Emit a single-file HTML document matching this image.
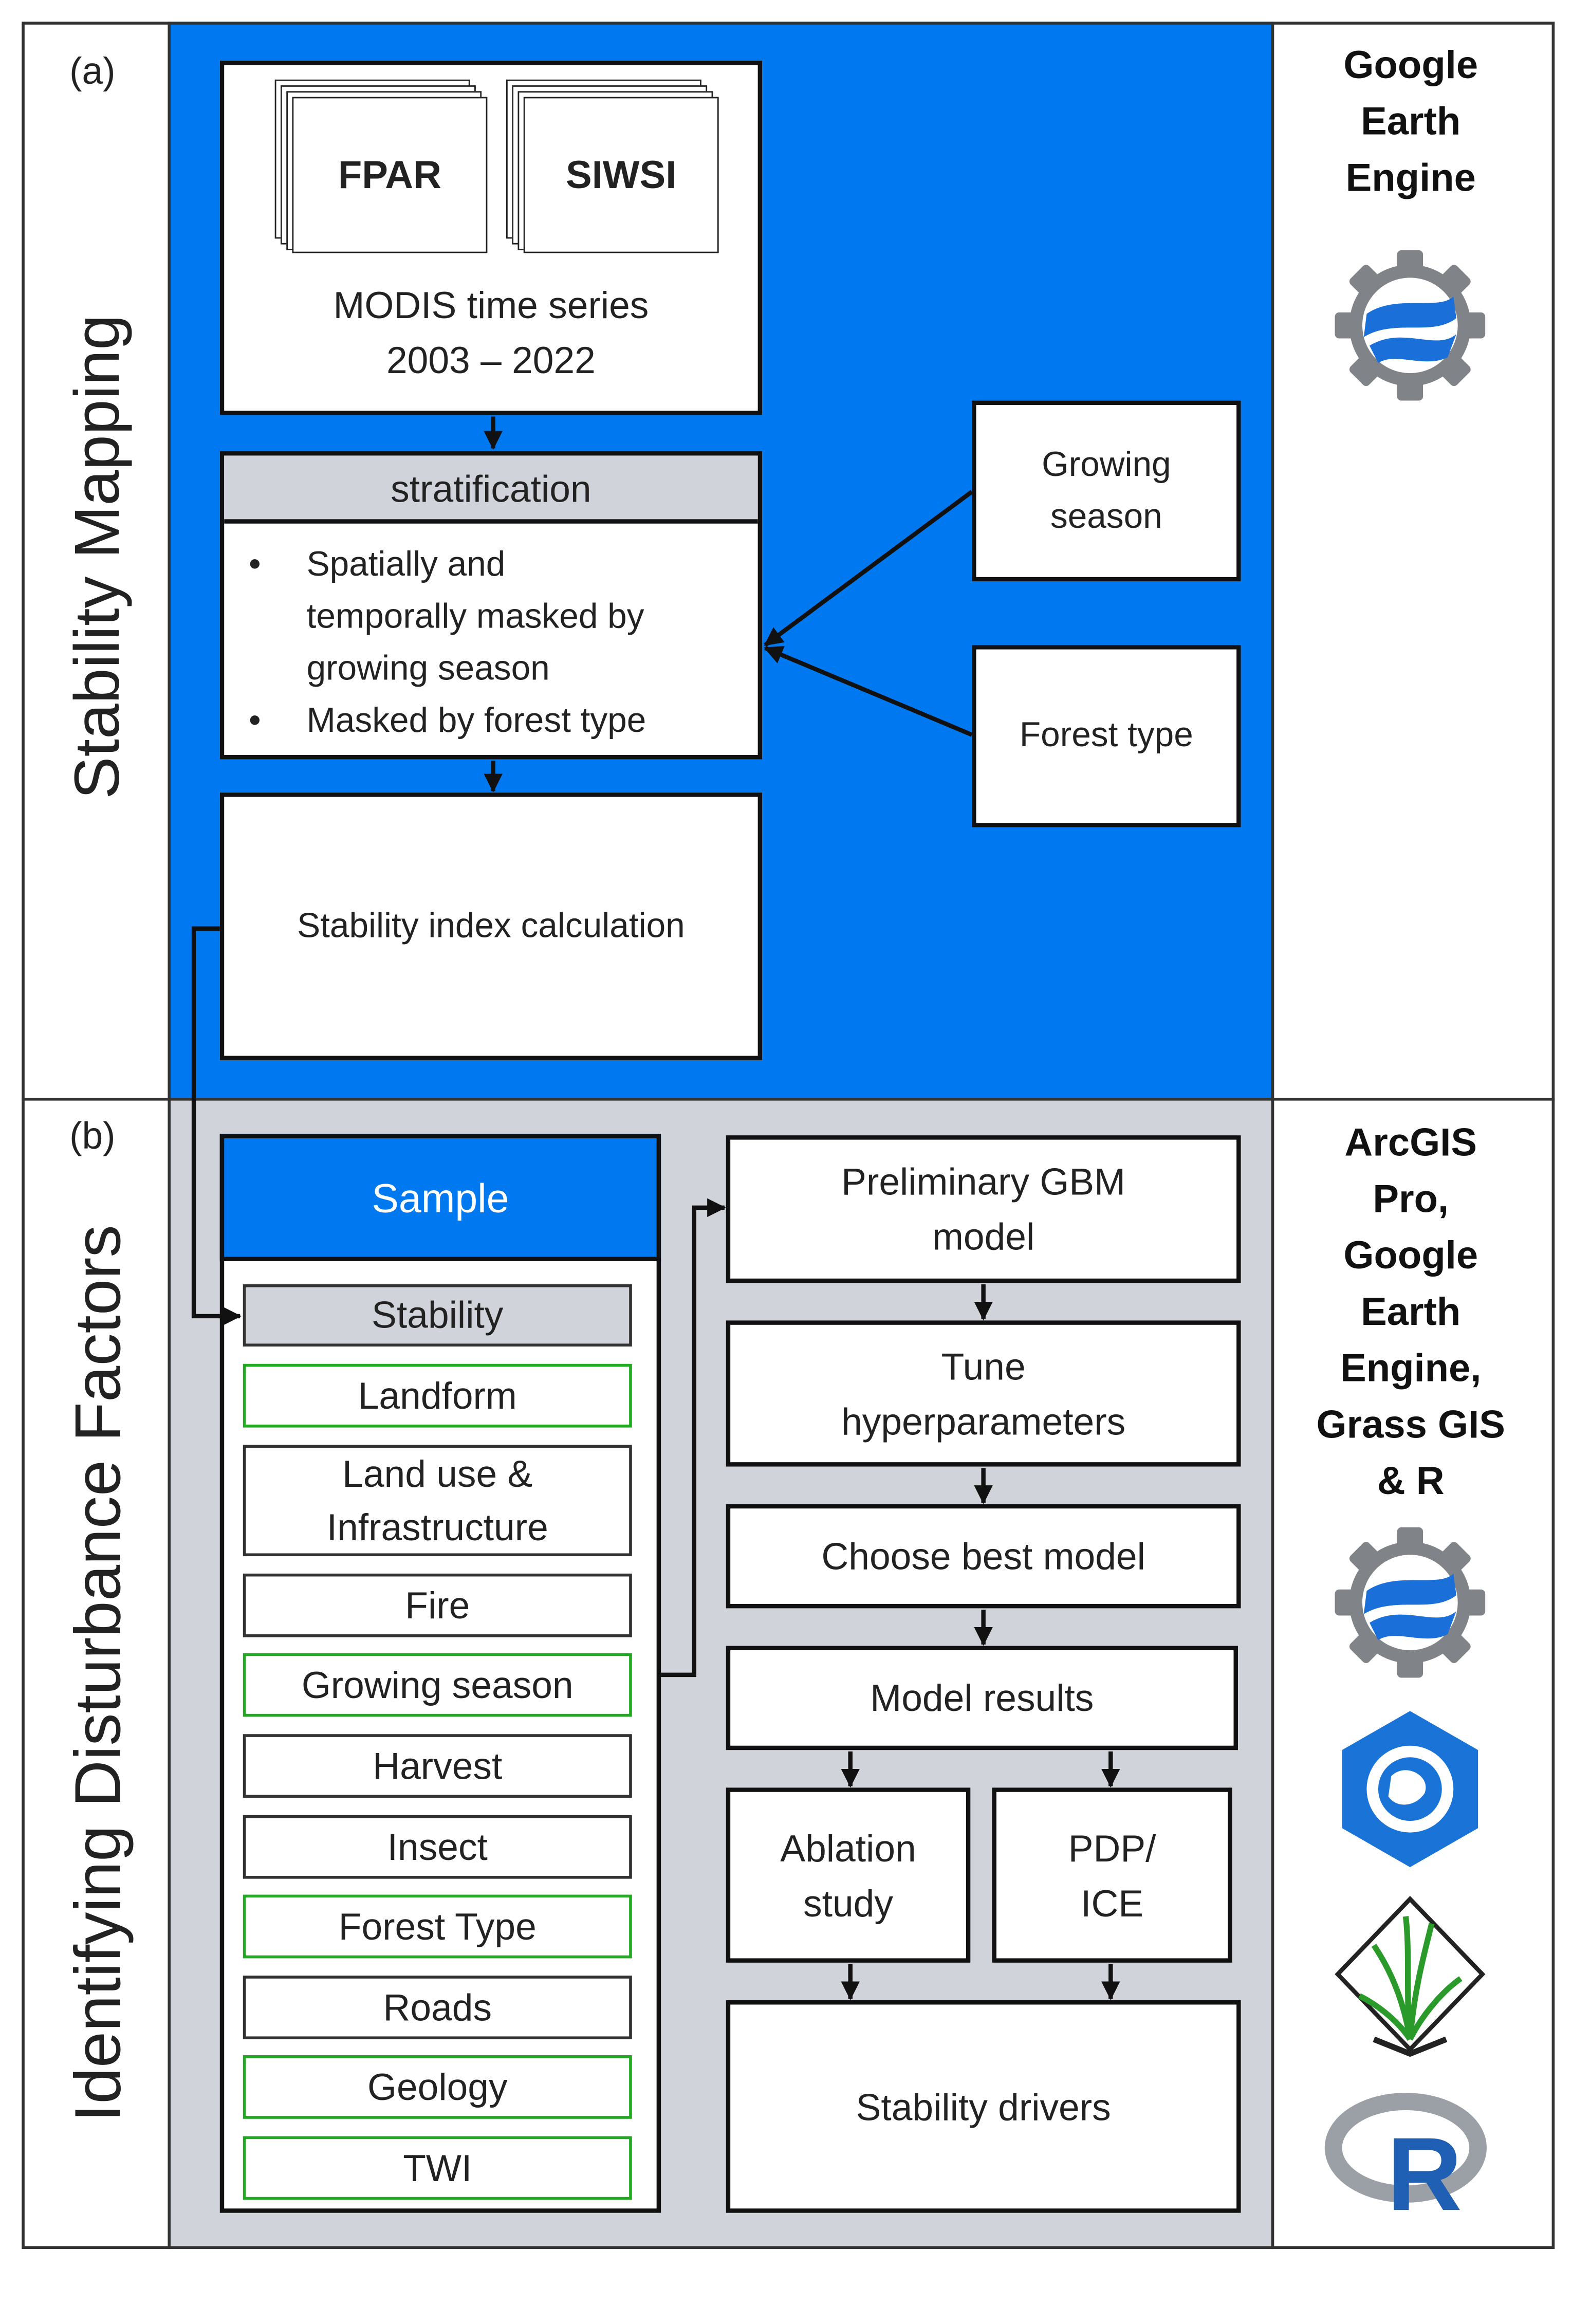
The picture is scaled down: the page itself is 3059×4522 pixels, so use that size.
<!DOCTYPE html>
<html><head><meta charset="utf-8"><style>
html,body{margin:0;padding:0;background:#fff;}
#wrap{position:absolute;left:0;top:0;width:1087px;height:1571px;transform:scale(2.8142);transform-origin:0 0;font-family:"Liberation Sans",sans-serif;color:#222;}
.a{position:absolute;box-sizing:border-box;}
.box{position:absolute;box-sizing:border-box;background:#fff;border:3px solid #111;display:flex;align-items:center;justify-content:center;text-align:center;font-size:26px;line-height:38px;}
.it{position:absolute;box-sizing:border-box;left:168px;width:269px;background:#fff;border:2px solid #333;display:flex;align-items:center;justify-content:center;text-align:center;font-size:26px;line-height:37px;}
.g{border-color:#22aa22;}
.card{position:absolute;box-sizing:border-box;background:#fff;border:1.5px solid #222;}
.rt{position:absolute;left:880px;width:195px;text-align:center;font-weight:bold;font-size:27px;line-height:39px;color:#111;}
</style></head><body><div id="wrap">
<div class="a" style="left:117px;top:15px;width:763px;height:745px;background:#0078f0"></div>
<div class="a" style="left:117px;top:760px;width:763px;height:795px;background:#d0d4da"></div>
<div class="a" style="left:15px;top:15px;width:1060px;height:1540px;border:2px solid #333"></div>
<div class="a" style="left:116px;top:15px;width:2px;height:1540px;background:#333"></div>
<div class="a" style="left:879px;top:15px;width:2px;height:1540px;background:#333"></div>
<div class="a" style="left:15px;top:759px;width:1060px;height:2px;background:#333"></div>

<div class="a" style="left:48px;top:34px;font-size:26px">(a)</div>
<div class="a" style="left:48px;top:770px;font-size:26px">(b)</div>
<div class="a" style="left:68px;top:385px;width:700px;margin-left:-350px;text-align:center;font-size:44px;transform:rotate(-90deg);line-height:50px;margin-top:-25px">Stability Mapping</div>
<div class="a" style="left:68px;top:1157px;width:900px;margin-left:-450px;text-align:center;font-size:45px;transform:rotate(-90deg);line-height:50px;margin-top:-25px">Identifying Disturbance Factors</div>

<!-- MODIS -->
<div class="box" style="left:152px;top:42px;width:375px;height:245px;align-items:flex-end;padding-bottom:16px">MODIS time series<br>2003 – 2022</div>
<div class="card" style="left:190px;top:55px;width:135px;height:110px"></div>
<div class="card" style="left:194px;top:59px;width:135px;height:110px"></div>
<div class="card" style="left:198px;top:63px;width:135px;height:110px"></div>
<div class="card" style="left:202px;top:67px;width:135px;height:108px;display:flex;align-items:center;justify-content:center;font-weight:bold;font-size:27px">FPAR</div>
<div class="card" style="left:350px;top:55px;width:135px;height:110px"></div>
<div class="card" style="left:354px;top:59px;width:135px;height:110px"></div>
<div class="card" style="left:358px;top:63px;width:135px;height:110px"></div>
<div class="card" style="left:362px;top:67px;width:135px;height:108px;display:flex;align-items:center;justify-content:center;font-weight:bold;font-size:27px">SIWSI</div>

<!-- stratification -->
<div class="box" style="left:152px;top:312px;width:375px;height:213px"></div>
<div class="a" style="left:155px;top:315px;width:369px;height:47px;background:#d0d4da;border-bottom:3px solid #111;text-align:center;font-size:26px;line-height:46px">stratification</div>
<div class="a" style="left:172px;top:373px;font-size:24px;line-height:36px;width:330px">
<div style="position:relative;padding-left:40px"><span style="position:absolute;left:0">•</span>Spatially and<br>temporally masked by<br>growing season</div>
<div style="position:relative;padding-left:40px"><span style="position:absolute;left:0">•</span>Masked by forest type</div></div>

<div class="box" style="left:152px;top:548px;width:375px;height:185px;font-size:24px">Stability index calculation</div>
<div class="box" style="left:672px;top:277px;width:186px;height:125px;font-size:24px;line-height:36px">Growing<br>season</div>
<div class="box" style="left:672px;top:446px;width:186px;height:126px;font-size:24px">Forest type</div>

<!-- bottom -->
<div class="box" style="left:152px;top:784px;width:305px;height:746px"></div>
<div class="a" style="left:152px;top:784px;width:305px;height:88px;background:#0078f0;border:3px solid #111;color:#fff;font-size:28px;text-align:center;line-height:84px">Sample</div>
<div class="it" style="top:888px;height:43px;background:#d0d4da">Stability</div>
<div class="it g" style="top:943px;height:44px">Landform</div>
<div class="it" style="top:999px;height:77px">Land use &amp;<br>Infrastructure</div>
<div class="it" style="top:1088px;height:44px">Fire</div>
<div class="it g" style="top:1143px;height:44px">Growing season</div>
<div class="it" style="top:1199px;height:44px">Harvest</div>
<div class="it" style="top:1255px;height:44px">Insect</div>
<div class="it g" style="top:1310px;height:44px">Forest Type</div>
<div class="it" style="top:1366px;height:44px">Roads</div>
<div class="it g" style="top:1421px;height:44px">Geology</div>
<div class="it g" style="top:1477px;height:44px">TWI</div>

<div class="box" style="left:502px;top:785px;width:356px;height:102px">Preliminary GBM<br>model</div>
<div class="box" style="left:502px;top:913px;width:356px;height:101px">Tune<br>hyperparameters</div>
<div class="box" style="left:502px;top:1040px;width:356px;height:72px">Choose best model</div>
<div class="box" style="left:502px;top:1138px;width:354px;height:72px">Model results</div>
<div class="box" style="left:502px;top:1236px;width:169px;height:121px">Ablation<br>study</div>
<div class="box" style="left:686px;top:1236px;width:166px;height:121px">PDP/<br>ICE</div>
<div class="box" style="left:502px;top:1383px;width:356px;height:147px">Stability drivers</div>

<!-- right column -->
<div class="rt" style="top:26px;left:878px">Google<br>Earth<br>Engine</div>
<div class="rt" style="top:771px;left:878px">ArcGIS<br>Pro,<br>Google<br>Earth<br>Engine,<br>Grass GIS<br>&amp; R</div>

<svg class="a" style="left:0;top:0" width="1087" height="1571" viewBox="0 0 1087 1571">
<defs>
<marker id="ar" markerWidth="13" markerHeight="13" refX="12" refY="6.5" orient="auto" markerUnits="userSpaceOnUse"><path d="M0,0 L13,6.5 L0,13 z" fill="#111"/></marker>
<g id="gear">
<g fill="#808488">
<rect x="-9" y="-52" width="18" height="16" rx="3"/>
<rect x="-9" y="-52" width="18" height="16" rx="3" transform="rotate(45)"/>
<rect x="-9" y="-52" width="18" height="16" rx="3" transform="rotate(90)"/>
<rect x="-9" y="-52" width="18" height="16" rx="3" transform="rotate(135)"/>
<rect x="-9" y="-52" width="18" height="16" rx="3" transform="rotate(180)"/>
<rect x="-9" y="-52" width="18" height="16" rx="3" transform="rotate(225)"/>
<rect x="-9" y="-52" width="18" height="16" rx="3" transform="rotate(270)"/>
<rect x="-9" y="-52" width="18" height="16" rx="3" transform="rotate(315)"/>
<circle r="42"/></g>
<circle r="33" fill="#fff"/>
<path d="M-30,-8 C-10,-22 20,-10 30,-20 L32,-5 C15,8 -10,-5 -32,8z" fill="#1a6fd8"/>
<path d="M-28,14 C-5,0 18,18 32,6 L26,22 C10,30 -10,18 -22,26z" fill="#1a6fd8"/>
</g>
</defs>
<g stroke="#111" stroke-width="3" fill="none">
<line x1="341" y1="288" x2="341" y2="310" marker-end="url(#ar)"/>
<line x1="341" y1="526" x2="341" y2="547" marker-end="url(#ar)"/>
<line x1="672" y1="340" x2="529" y2="446" marker-end="url(#ar)"/>
<line x1="672" y1="508" x2="529" y2="448" marker-end="url(#ar)"/>
<polyline points="152,642 134,642 134,910 166,910" marker-end="url(#ar)"/>
<polyline points="457,1158 480,1158 480,835 501,835" marker-end="url(#ar)"/>
<line x1="680" y1="888" x2="680" y2="912" marker-end="url(#ar)"/>
<line x1="680" y1="1015" x2="680" y2="1039" marker-end="url(#ar)"/>
<line x1="680" y1="1113" x2="680" y2="1137" marker-end="url(#ar)"/>
<line x1="588" y1="1211" x2="588" y2="1235" marker-end="url(#ar)"/>
<line x1="768" y1="1211" x2="768" y2="1235" marker-end="url(#ar)"/>
<line x1="588" y1="1358" x2="588" y2="1382" marker-end="url(#ar)"/>
<line x1="768" y1="1358" x2="768" y2="1382" marker-end="url(#ar)"/>
</g>
<use href="#gear" transform="translate(975,225)"/>
<use href="#gear" transform="translate(975,1108)"/>
<polygon points="975,1183 1022,1210 1022,1264 975,1291 928,1264 928,1210" fill="#1a74d8"/>
<circle cx="975" cy="1237" r="30" fill="#fff"/>
<circle cx="975" cy="1237" r="22" fill="#1a74d8"/>
<path d="M962,1228 C972,1218 990,1228 985,1240 C978,1250 965,1250 960,1242z" fill="#fff"/>
<polygon points="975,1313 1025,1365 975,1417 925,1365" fill="#fff" stroke="#222" stroke-width="3"/>
<g stroke="#2a9a2a" stroke-width="4" fill="none">
<path d="M975,1410 C970,1380 960,1360 950,1345"/><path d="M975,1410 C978,1375 985,1350 990,1330"/>
<path d="M975,1410 C972,1380 975,1350 972,1325"/><path d="M975,1410 C985,1390 1000,1375 1010,1368"/>
<path d="M975,1410 C965,1395 950,1385 940,1380"/></g>
<path d="M950,1410 L975,1420 L1000,1410" stroke="#222" stroke-width="4" fill="none"/>
<ellipse cx="972" cy="1485" rx="50" ry="32" fill="none" stroke="#9aa0a6" stroke-width="12"/>
<text x="985" y="1528" font-family="Liberation Sans" font-weight="bold" font-size="72" fill="#1f5fb4" text-anchor="middle">R</text>
</svg>
</div></body></html>
